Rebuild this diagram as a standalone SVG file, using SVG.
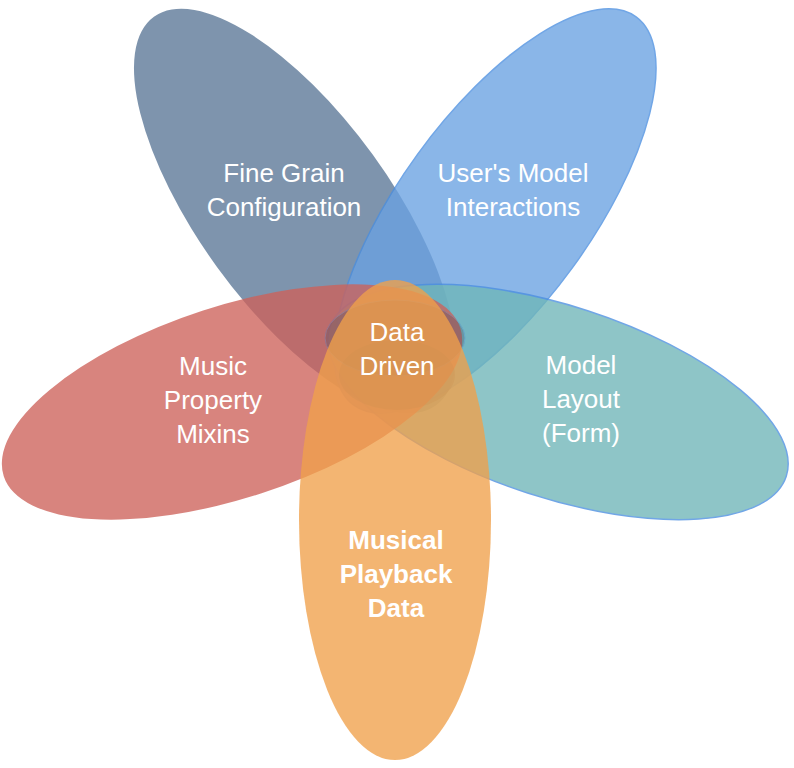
<svg xmlns="http://www.w3.org/2000/svg" width="794" height="768" viewBox="0 0 794 768">
<style>
.p{opacity:0.78}
.t{font-family:"Liberation Sans",Arial,sans-serif;font-size:26px;fill:#fff;text-anchor:middle}
</style>
<rect width="794" height="768" fill="#fff"/>
<g id="fine-grain"><ellipse class="p" cx="295" cy="211" rx="96" ry="240" transform="rotate(-36 295 211)" fill="#5a7696"/></g>
<g id="users-model"><ellipse class="p" cx="495" cy="211" rx="96" ry="240" transform="rotate(36 495 211)" fill="#6aa2e2" stroke="#4a8ee0" stroke-width="1.5"/></g>
<g id="model-layout"><ellipse class="p" cx="558" cy="402" rx="96" ry="240" transform="rotate(-72 558 402)" fill="#6fb6b8" stroke="#4a8ee0" stroke-width="1.5"/></g>
<g id="music-property"><ellipse class="p" cx="232" cy="402" rx="96" ry="240" transform="rotate(72 232 402)" fill="#cd625a"/></g>
<g id="data-driven-shape">
<ellipse cx="395" cy="338" rx="70" ry="38" fill="#4a4a5a" opacity="0.3" stroke="#4a8ee0" stroke-width="1"/>
<ellipse cx="397" cy="375" rx="58" ry="35" fill="#4a4a5a" opacity="0.25"/>
</g>
<g id="musical-playback"><ellipse class="p" cx="395" cy="520" rx="96" ry="240" fill="#f0a04a"/></g>
<g id="data-driven">
<text class="t" x="397" y="341">Data</text><text class="t" x="397" y="375">Driven</text>
</g>
<g id="labels">
<text class="t" x="284" y="182">Fine Grain</text><text class="t" x="284" y="216">Configuration</text>
<text class="t" x="513" y="182">User's Model</text><text class="t" x="513" y="216">Interactions</text>
<text class="t" x="581" y="374">Model</text><text class="t" x="581" y="408">Layout</text><text class="t" x="581" y="442">(Form)</text>
<text class="t" x="213" y="375">Music</text><text class="t" x="213" y="409">Property</text><text class="t" x="213" y="443">Mixins</text>
<text class="t" x="396" y="549" font-weight="bold">Musical</text><text class="t" x="396" y="583" font-weight="bold">Playback</text><text class="t" x="396" y="617" font-weight="bold">Data</text>
</g>
<g id="connectors"/>
</svg>
